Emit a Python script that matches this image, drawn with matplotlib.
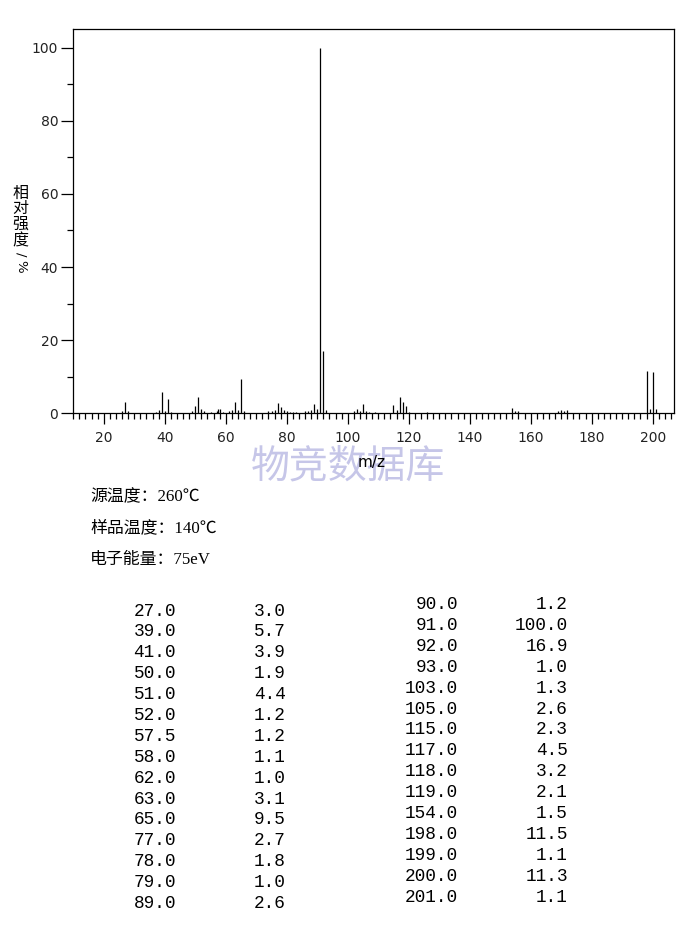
import matplotlib
matplotlib.use("Agg")
import matplotlib.pyplot as plt
import numpy as np

# ---- data ----
table_mz = [27.0, 39.0, 41.0, 50.0, 51.0, 52.0, 57.5, 58.0, 62.0, 63.0, 65.0, 77.0, 78.0, 79.0, 89.0,
            90.0, 91.0, 92.0, 93.0, 103.0, 105.0, 115.0, 117.0, 118.0, 119.0, 154.0, 198.0, 199.0, 200.0, 201.0]
table_int = [3.0, 5.7, 3.9, 1.9, 4.4, 1.2, 1.2, 1.1, 1.0, 3.1, 9.5, 2.7, 1.8, 1.0, 2.6,
             1.2, 100.0, 16.9, 1.0, 1.3, 2.6, 2.3, 4.5, 3.2, 2.1, 1.5, 11.5, 1.1, 11.3, 1.1]
minor_mz = [26, 28, 37, 38, 40, 42, 49, 53, 55, 57, 59, 61, 64, 66, 74, 75, 76, 80, 81, 82, 83,
            86, 87, 88, 102, 104, 106, 107, 109, 116, 120, 126, 155, 156, 169, 170, 171, 172]
minor_int = [0.5, 0.7, 0.4, 0.9, 0.7, 0.4, 0.5, 0.6, 0.4, 0.7, 0.4, 0.6, 0.9, 0.6, 0.7, 0.7, 0.8, 0.5, 0.4, 0.4, 0.4,
             0.5, 0.5, 0.8, 0.6, 0.7, 0.6, 0.4, 0.4, 0.8, 0.4, 0.3, 0.5, 0.7, 0.5, 0.9, 0.7, 0.9]

x_major = list(range(20, 201, 20))
y_major = list(range(0, 101, 20))

info_lines = ["源温度：260℃", "样品温度：140℃", "电子能量：75eV"]
ylabel_chars = ["相", "对", "强", "度"]

W, H = 696, 935
fig = plt.figure(figsize=(W / 100, H / 100), dpi=100)
fig.patch.set_facecolor("white")


def fx(px):
    return px / W


def fy(py):
    return 1 - py / H


ax = fig.add_axes([fx(73.3), fy(413.3), fx(674) - fx(73.3), fy(29.3) - fy(413.3)])
all_mz = table_mz + minor_mz
all_int = table_int + minor_int
ax.vlines(all_mz, 0, all_int, color="black", lw=0.9)
ax.set_xlim(10, 207)
ax.set_ylim(0, 105)

for s in ax.spines.values():
    s.set_linewidth(0.9)
    s.set_color("black")

ax.set_xticks(x_major)
ax.set_xticks(np.arange(10, 207, 2), minor=True)
ax.set_yticks(y_major)
ax.set_yticks(list(range(10, 100, 20)), minor=True)
ax.tick_params(axis="x", which="major", direction="out", length=8, width=0.9, pad=4.5, labelsize=10)
ax.tick_params(axis="x", which="minor", direction="out", length=4.3, width=0.9)
ax.tick_params(axis="y", which="major", direction="out", length=8.8, width=0.9, pad=2, labelsize=10)
ax.tick_params(axis="y", which="minor", direction="out", length=4.3, width=0.9)
for lbl in ax.get_xticklabels() + ax.get_yticklabels():
    lbl.set_color("#222222")

# watermark
fig.text(fx(348), fy(467), "物竞数据库", fontsize=28, color="#c6c6e8",
         family=["Noto Sans CJK SC"], ha="center", va="center", zorder=1)
# x label
fig.text(fx(372), fy(463), "m/z", fontsize=11, color="black", ha="center", va="center", zorder=5)

# y label, stacked
ys = [193, 208.5, 224.5, 241]
for ch, yy in zip(ylabel_chars, ys):
    fig.text(fx(20.7), fy(yy), ch, fontsize=11.5, family=["Noto Sans CJK SC"], ha="center", va="center")
fig.text(fx(20.7), fy(254), "/", fontsize=9.5, rotation=-90, family=["DejaVu Sans"], ha="center", va="center")
fig.text(fx(20.7), fy(266), "%", fontsize=9.5, rotation=-90, family=["DejaVu Sans"], ha="center", va="center")

# info lines
for i, t in enumerate(info_lines):
    fig.text(fx(90), fy(497 + i * 31.6), t, fontsize=12.2,
             family=["Liberation Serif", "Noto Sans CJK SC"], ha="left", va="center")

# table
n_left = 15
row_h = 20.9
for i in range(n_left):
    y = 611 + i * row_h
    fig.text(fx(176), fy(y), f"{table_mz[i]:.1f}", fontsize=12.8, family="Liberation Mono", ha="right", va="center")
    fig.text(fx(286), fy(y), f"{table_int[i]:.1f}", fontsize=12.8, family="Liberation Mono", ha="right", va="center")
for i in range(n_left, len(table_mz)):
    y = 604.5 + (i - n_left) * row_h
    fig.text(fx(458), fy(y), f"{table_mz[i]:.1f}", fontsize=12.8, family="Liberation Mono", ha="right", va="center")
    fig.text(fx(568), fy(y), f"{table_int[i]:.1f}", fontsize=12.8, family="Liberation Mono", ha="right", va="center")

fig.savefig("out.png", dpi=100, facecolor="white")
